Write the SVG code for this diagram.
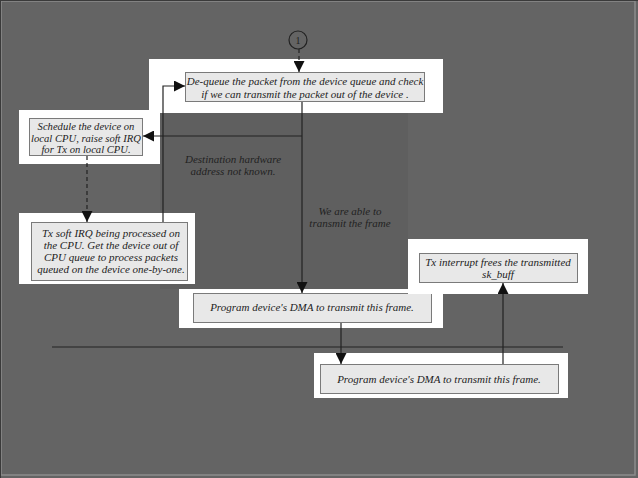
<svg xmlns="http://www.w3.org/2000/svg" width="638" height="478" viewBox="0 0 638 478">
<defs>
<style>
.panel{fill:#ffffff}
.box{fill:#e8e8e8;stroke:#7a7a7a;stroke-width:1}
.t{font-family:"Liberation Serif","DejaVu Serif",serif;font-style:italic;font-size:11px;fill:#222;text-anchor:middle}
.ln{stroke:#222;stroke-width:1.2;fill:none}
.dash{stroke:#222;stroke-width:1.2;fill:none;stroke-dasharray:4,3}
</style>
<marker id="ah" viewBox="0 0 10 10" refX="10" refY="5" markerWidth="11" markerHeight="11" markerUnits="userSpaceOnUse" orient="auto">
<path d="M0,0 L10,5 L0,10 Z" fill="#111"/>
</marker>
</defs>
<rect x="0" y="0" width="638" height="478" fill="#646464"/>
<rect x="1" y="1" width="634" height="474" fill="none" stroke="#8c8c8c" stroke-width="1.5"/>
<path d="M0,0.5 H638 M0.5,0 V478" stroke="#3a3a3a" stroke-width="1"/>
<rect x="160" y="113" width="248" height="176" fill="#5f5f5f"/>

<g id="start">
<circle cx="298" cy="40" r="9" fill="none" stroke="#222" stroke-width="1.2"/>
<text x="298" y="43.5" style="font-family:'Liberation Serif',serif;font-size:10px;fill:#222;text-anchor:middle">1</text>
</g>

<g id="dequeue">
<rect class="panel" x="149" y="59" width="294" height="54"/>
<rect class="box" x="185.5" y="72.5" width="239" height="29"/>
<text class="t" x="305" y="85">De-queue the packet from the device queue and check</text>
<text class="t" x="305" y="97.5">if we can transmit the packet out of the device .</text>
</g>

<g id="schedule">
<rect class="panel" x="19" y="110" width="141" height="54"/>
<rect class="box" x="29.5" y="118.5" width="113" height="37"/>
<text class="t" x="86" y="129.5" style="font-size:10.6px">Schedule the device on</text>
<text class="t" x="86" y="141.5" style="font-size:10.6px">local CPU, raise soft IRQ</text>
<text class="t" x="86" y="153" style="font-size:10.6px">for Tx on local CPU.</text>
</g>

<g id="softirq">
<rect class="panel" x="19" y="213" width="176" height="71"/>
<rect class="box" x="31.5" y="222.5" width="156" height="58"/>
<text class="t" x="111" y="237">Tx soft IRQ being processed on</text>
<text class="t" x="111" y="249">the CPU. Get the device out of</text>
<text class="t" x="111" y="261">CPU queue to process packets</text>
<text class="t" x="111" y="273">queued on the device one-by-one.</text>
</g>

<g id="dma1">
<rect class="panel" x="179" y="289" width="264" height="39"/>
<rect class="box" x="193.5" y="293.5" width="238" height="29"/>
<text class="t" x="312" y="311">Program device's DMA to transmit this frame.</text>
</g>

<g id="txint">
<rect class="panel" x="408" y="239" width="180" height="55"/>
<rect class="box" x="419.5" y="253.5" width="158" height="29"/>
<text class="t" x="498" y="266">Tx interrupt frees the transmitted</text>
<text class="t" x="498" y="278">sk_buff</text>
</g>

<g id="dma2">
<rect class="panel" x="314" y="353" width="254" height="45"/>
<rect class="box" x="320.5" y="364.5" width="238" height="29"/>
<text class="t" x="439" y="382.5">Program device's DMA to transmit this frame.</text>
</g>

<g id="labels">
<text class="t" x="233" y="163">Destination hardware</text>
<text class="t" x="233" y="175">address not known.</text>
<text class="t" x="350" y="214.5">We are able to</text>
<text class="t" x="350" y="226.5">transmit the frame</text>
</g>

<g id="connectors">
<line class="dash" x1="299" y1="49" x2="299" y2="72" marker-end="url(#ah)"/>
<line class="ln" x1="302" y1="102" x2="302" y2="293" marker-end="url(#ah)"/>
<polyline class="ln" points="302,136 143,136" marker-end="url(#ah)"/>
<line class="dash" x1="87" y1="156" x2="87" y2="222" marker-end="url(#ah)"/>
<polyline class="ln" points="163,222 163,86 185,86" marker-end="url(#ah)"/>
<line class="ln" x1="341" y1="323" x2="341" y2="364" marker-end="url(#ah)"/>
<line class="ln" x1="503" y1="364" x2="503" y2="283" marker-end="url(#ah)"/>
<line x1="52" y1="347" x2="563" y2="347" stroke="#222" stroke-width="1.2"/>
</g>
</svg>
